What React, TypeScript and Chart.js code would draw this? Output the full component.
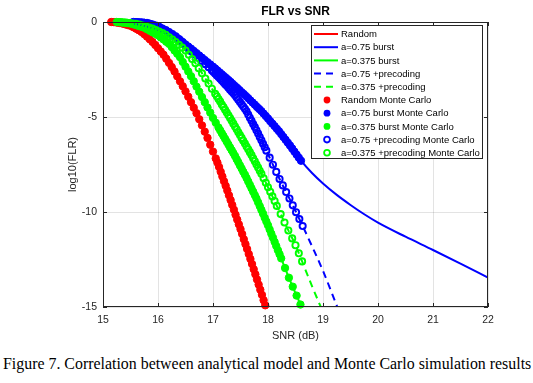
import React, { useEffect, useRef } from 'react';
import { Chart, registerables } from 'chart.js';

Chart.register(...registerables);

// ---------- data (SNR in dB, log10(FLR)) ----------
const xTicks = [15, 16, 17, 18, 19, 20, 21, 22];
const yTicks = [0, -5, -10, -15];

const legendLabels = [
  'Random',
  'a=0.75 burst',
  'a=0.375 burst',
  'a=0.75 +precoding',
  'a=0.375 +precoding',
  'Random Monte Carlo',
  'a=0.75 burst Monte Carlo',
  'a=0.375 burst Monte Carlo',
  'a=0.75 +precoding Monte Carlo',
  'a=0.375 +precoding Monte Carlo',
];

// analytical curves
const randomSnr = [15.15, 15.3, 15.5, 15.7, 15.9, 16.1, 16.3, 16.5, 16.7, 16.9, 17.1, 17.3, 17.5, 17.7, 17.9, 17.96];
const randomFlr = [0, -0.05, -0.2, -0.52, -1.05, -1.72, -2.6, -3.65, -4.8, -6.1, -7.55, -9.2, -10.9, -12.65, -14.45, -15];

const burst075Snr = [15.55, 15.8, 16.0, 16.2, 16.4, 16.6, 16.8, 17.0, 17.3, 17.6, 17.9, 18.2, 18.4, 18.6, 18.8, 19.0, 19.25, 19.5, 19.75, 20.0, 20.5, 21.0, 21.5, 22.0];
const burst075Flr = [0, -0.05, -0.25, -0.55, -0.95, -1.4, -1.88, -2.35, -3.1, -3.9, -4.75, -5.75, -6.5, -7.3, -7.95, -8.5, -9.1, -9.63, -10.12, -10.56, -11.3, -12.0, -12.72, -13.45];

const burst0375Snr = [15.25, 15.5, 15.75, 16.0, 16.2, 16.4, 16.6, 16.8, 17.0, 17.2, 17.4, 17.6, 17.8, 18.0, 18.2, 18.4, 18.61];
const burst0375Flr = [0, -0.08, -0.3, -0.7, -1.15, -1.85, -2.85, -3.95, -5.05, -6.05, -7.05, -8.15, -9.35, -10.7, -12.15, -13.6, -15];

const prec075Snr = [15.6, 16.0, 16.3, 16.6, 16.8, 17.0, 17.2, 17.4, 17.6, 17.8, 18.0, 18.2, 18.4, 18.6, 18.8, 19.0, 19.26];
const prec075Flr = [0, -0.22, -0.7, -1.5, -2.05, -2.6, -3.2, -3.85, -4.65, -5.75, -6.95, -8.2, -9.35, -10.55, -11.8, -13.1, -15];

const prec0375Snr = [15.3, 15.6, 15.9, 16.1, 16.3, 16.5, 16.7, 16.9, 17.1, 17.3, 17.5, 17.7, 17.9, 18.1, 18.3, 18.5, 18.62, 18.8, 18.96];
const prec0375Flr = [0, -0.1, -0.35, -0.6, -1.0, -1.5, -2.25, -3.15, -4.05, -5.0, -6.0, -7.0, -8.1, -9.3, -10.55, -11.75, -12.6, -13.9, -15];

// Monte Carlo results
const mcRandomSnr = [
  15.15, 15.2, 15.25, 15.3, 15.35, 15.4, 15.45, 15.5, 15.55, 15.6, 15.65, 15.7, 15.75, 15.8, 15.85, 15.9, 15.95, 16.0,
  16.05, 16.1, 16.15, 16.2, 16.25, 16.3, 16.35, 16.4, 16.45, 16.5, 16.55, 16.6, 16.65, 16.7, 16.75, 16.8, 16.85, 16.9,
  16.95, 17.0, 17.05, 17.08, 17.11, 17.14, 17.17, 17.2, 17.23, 17.26, 17.29, 17.32, 17.35, 17.38, 17.41, 17.44, 17.47,
  17.5, 17.53, 17.56, 17.59, 17.62, 17.65, 17.68, 17.71, 17.74, 17.77, 17.8, 17.83, 17.86, 17.89, 17.92, 17.95,
];
const mcRandomFlr = [
  0, -0.01, -0.03, -0.05, -0.08, -0.12, -0.16, -0.2, -0.27, -0.35, -0.43, -0.52, -0.64, -0.77, -0.91, -1.05, -1.21, -1.38,
  -1.55, -1.72, -1.93, -2.15, -2.37, -2.6, -2.86, -3.12, -3.38, -3.65, -3.93, -4.22, -4.51, -4.8, -5.12, -5.44, -5.77, -6.1,
  -6.46, -6.82, -7.18, -7.4, -7.63, -7.88, -8.13, -8.38, -8.62, -8.87, -9.12, -9.37, -9.63, -9.88, -10.14, -10.4, -10.65,
  -10.9, -11.16, -11.43, -11.69, -11.95, -12.21, -12.47, -12.74, -13.01, -13.28, -13.55, -13.82, -14.09, -14.36, -14.64, -14.91,
];

const mcBurst075Snr = [
  15.55, 15.6, 15.65, 15.7, 15.75, 15.8, 15.85, 15.9, 15.95, 16.0, 16.05, 16.1, 16.15, 16.2, 16.25, 16.3, 16.35, 16.4,
  16.45, 16.5, 16.55, 16.6, 16.65, 16.7, 16.75, 16.8, 16.85, 16.9, 16.95, 17.0, 17.04, 17.08, 17.12, 17.16, 17.2, 17.24,
  17.28, 17.32, 17.36, 17.4, 17.44, 17.48, 17.52, 17.56, 17.6, 17.64, 17.68, 17.72, 17.76, 17.8, 17.84, 17.88, 17.92,
  17.96, 18.0, 18.04, 18.08, 18.12, 18.16, 18.2, 18.24, 18.28, 18.32, 18.36, 18.4, 18.44, 18.48, 18.52, 18.56, 18.6,
];
const mcBurst075Flr = [
  0, -0.01, -0.02, -0.03, -0.04, -0.05, -0.09, -0.14, -0.2, -0.25, -0.32, -0.4, -0.47, -0.55, -0.65, -0.75, -0.85, -0.95,
  -1.06, -1.18, -1.29, -1.4, -1.52, -1.64, -1.76, -1.88, -2.0, -2.12, -2.23, -2.35, -2.45, -2.55, -2.65, -2.75, -2.85, -2.95,
  -3.05, -3.15, -3.26, -3.37, -3.47, -3.58, -3.69, -3.79, -3.9, -4.01, -4.13, -4.24, -4.35, -4.47, -4.58, -4.69, -4.82,
  -4.95, -5.08, -5.22, -5.35, -5.48, -5.62, -5.75, -5.9, -6.05, -6.2, -6.35, -6.5, -6.66, -6.82, -6.98, -7.14, -7.3,
];

const mcBurst0375Snr = [
  15.25, 15.3, 15.35, 15.4, 15.45, 15.5, 15.55, 15.6, 15.65, 15.7, 15.75, 15.8, 15.85, 15.9, 15.95, 16.0, 16.05, 16.1,
  16.15, 16.2, 16.25, 16.3, 16.35, 16.4, 16.45, 16.5, 16.55, 16.6, 16.65, 16.7, 16.75, 16.8, 16.85, 16.9, 16.95, 17.0,
  17.05, 17.1, 17.13, 17.16, 17.19, 17.22, 17.25, 17.28, 17.31, 17.34, 17.37, 17.4, 17.43, 17.46, 17.49, 17.52, 17.55,
  17.58, 17.61, 17.64, 17.67, 17.7, 17.73, 17.76, 17.79, 17.82, 17.85, 17.88, 17.91, 17.94, 17.97, 18.0, 18.03, 18.06,
  18.09, 18.12, 18.15, 18.18, 18.21, 18.24, 18.31, 18.38, 18.45, 18.52, 18.59,
];
const mcBurst0375Flr = [
  0, -0.01, -0.03, -0.04, -0.06, -0.08, -0.12, -0.16, -0.21, -0.25, -0.3, -0.38, -0.46, -0.54, -0.62, -0.7, -0.81, -0.92,
  -1.04, -1.15, -1.32, -1.5, -1.67, -1.85, -2.1, -2.35, -2.6, -2.85, -3.12, -3.4, -3.67, -3.95, -4.22, -4.5, -4.77, -5.05,
  -5.3, -5.55, -5.7, -5.85, -6.0, -6.15, -6.3, -6.45, -6.6, -6.75, -6.9, -7.05, -7.22, -7.38, -7.55, -7.71, -7.88,
  -8.04, -8.21, -8.39, -8.57, -8.75, -8.93, -9.11, -9.29, -9.49, -9.69, -9.89, -10.09, -10.3, -10.5, -10.7, -10.92, -11.14,
  -11.35, -11.57, -11.79, -12.01, -12.22, -12.44, -12.95, -13.46, -13.93, -14.4, -14.87,
];

const mcPrec075Snr = [
  15.6, 15.66, 15.72, 15.78, 15.84, 15.9, 15.96, 16.02, 16.08, 16.14, 16.2, 16.26, 16.32, 16.38, 16.44, 16.5, 16.56,
  16.62, 16.68, 16.74, 16.8, 16.86, 16.92, 16.98, 17.01, 17.04, 17.07, 17.1, 17.13, 17.16, 17.19, 17.22, 17.25, 17.28,
  17.31, 17.34, 17.37, 17.4, 17.43, 17.46, 17.49, 17.52, 17.55, 17.58, 17.61, 17.64, 17.67, 17.7, 17.73, 17.76, 17.79,
  17.82, 17.85, 17.88, 17.91, 17.94, 17.97, 18.03, 18.09, 18.15, 18.21, 18.27, 18.33, 18.39, 18.45, 18.51, 18.57, 18.63,
];
const mcPrec075Flr = [
  0, -0.01, -0.03, -0.06, -0.1, -0.14, -0.19, -0.25, -0.34, -0.43, -0.53, -0.63, -0.75, -0.9, -1.06, -1.23, -1.39,
  -1.56, -1.72, -1.89, -2.05, -2.22, -2.38, -2.55, -2.63, -2.72, -2.81, -2.9, -2.99, -3.08, -3.17, -3.27, -3.36, -3.46,
  -3.56, -3.66, -3.75, -3.85, -3.97, -4.09, -4.21, -4.33, -4.45, -4.57, -4.7, -4.87, -5.04, -5.2, -5.37, -5.53, -5.7,
  -5.87, -6.05, -6.23, -6.41, -6.59, -6.77, -7.14, -7.51, -7.89, -8.26, -8.6, -8.95, -9.29, -9.65, -10.01, -10.37, -10.74,
];

const mcPrec0375Snr = [
  15.3, 15.36, 15.42, 15.48, 15.54, 15.6, 15.66, 15.72, 15.78, 15.84, 15.9, 15.96, 16.02, 16.08, 16.14, 16.2, 16.26,
  16.32, 16.38, 16.44, 16.5, 16.56, 16.62, 16.68, 16.74, 16.8, 16.86, 16.92, 16.98, 17.04, 17.07, 17.1, 17.13, 17.16,
  17.19, 17.22, 17.25, 17.28, 17.31, 17.34, 17.37, 17.4, 17.43, 17.46, 17.49, 17.52, 17.55, 17.58, 17.61, 17.64, 17.67,
  17.7, 17.73, 17.76, 17.79, 17.82, 17.85, 17.88, 17.92, 17.96, 18.0, 18.04, 18.08, 18.12, 18.16, 18.23, 18.3, 18.37,
  18.44, 18.5, 18.56, 18.62,
];
const mcPrec0375Flr = [
  0, -0.01, -0.03, -0.05, -0.08, -0.1, -0.14, -0.19, -0.24, -0.29, -0.35, -0.42, -0.5, -0.58, -0.67, -0.8, -0.92,
  -1.05, -1.2, -1.35, -1.5, -1.72, -1.95, -2.17, -2.43, -2.7, -2.97, -3.24, -3.51, -3.78, -3.91, -4.05, -4.19, -4.34,
  -4.48, -4.62, -4.76, -4.91, -5.05, -5.2, -5.35, -5.5, -5.65, -5.8, -5.95, -6.1, -6.25, -6.4, -6.55, -6.7, -6.85,
  -7.0, -7.17, -7.33, -7.5, -7.66, -7.83, -7.99, -8.22, -8.46, -8.7, -8.94, -9.18, -9.42, -9.68, -10.11, -10.55, -10.97,
  -11.39, -11.75, -12.17, -12.6,
];

// ---------- styling ----------
const RED = '#ff0000';
const BLUE = '#0000ff';
const GREEN = '#00ff00';
const AXIS = '#262626';
const SANS = '"Liberation Sans", Arial, Helvetica, sans-serif';
const FILLED_R = 3.7;
const OPEN_R = 3.1;
const OPEN_W = 1.9;

const pts = (xs: number[], ys: number[]) => xs.map((x, i) => ({ x, y: ys[i] }));

const lineDs = (i: number, xs: number[], ys: number[], color: string, dash: number[] = []) => ({
  label: legendLabels[i],
  data: pts(xs, ys),
  showLine: true,
  borderColor: color,
  backgroundColor: color,
  borderWidth: 2,
  borderDash: dash,
  pointRadius: 0,
  cubicInterpolationMode: 'monotone',
  order: 10 - i,
  isLine: true,
});

const mcDs = (i: number, xs: number[], ys: number[], color: string, filled: boolean) => ({
  label: legendLabels[i],
  data: pts(xs, ys),
  showLine: false,
  borderColor: color,
  backgroundColor: filled ? color : 'rgba(0,0,0,0)',
  pointRadius: filled ? FILLED_R : OPEN_R,
  pointBorderWidth: filled ? 1 : OPEN_W,
  pointBackgroundColor: filled ? color : 'rgba(0,0,0,0)',
  pointBorderColor: color,
  pointStyle: 'circle',
  clip: false,
  order: 10 - i,
  isLine: false,
  filled,
});

const chromePlugin = {
  id: 'chrome',
  afterDatasetsDraw(chart: any) {
    const { ctx, chartArea: a, scales } = chart;
    ctx.save();
    ctx.strokeStyle = AXIS;
    ctx.lineWidth = 1;
    ctx.strokeRect(a.left + 0.5, a.top + 0.5, a.right - a.left - 1, a.bottom - a.top - 1);
    ctx.beginPath();
    xTicks.forEach((v) => {
      const px = Math.round(scales.x.getPixelForValue(v)) + 0.5;
      ctx.moveTo(px, a.bottom);
      ctx.lineTo(px, a.bottom - 4);
      ctx.moveTo(px, a.top);
      ctx.lineTo(px, a.top + 4);
    });
    yTicks.forEach((v) => {
      const py = Math.round(scales.y.getPixelForValue(v)) + 0.5;
      ctx.moveTo(a.left, py);
      ctx.lineTo(a.left + 4, py);
      ctx.moveTo(a.right, py);
      ctx.lineTo(a.right - 4, py);
    });
    ctx.stroke();
    ctx.restore();
  },
  afterDraw(chart: any) {
    const { ctx, chartArea: a } = chart;
    ctx.save();
    // title
    ctx.fillStyle = '#000';
    ctx.font = `bold 12px ${SANS}`;
    ctx.textAlign = 'center';
    ctx.textBaseline = 'middle';
    ctx.fillText('FLR vs SNR', (a.left + a.right) / 2, 12);
    // axis titles
    ctx.fillStyle = AXIS;
    ctx.font = `11px ${SANS}`;
    ctx.fillText('SNR (dB)', (a.left + a.right) / 2, 336);
    ctx.save();
    ctx.translate(73, (a.top + a.bottom) / 2);
    ctx.rotate(-Math.PI / 2);
    ctx.fillText('log10(FLR)', 0, 0);
    ctx.restore();

    // legend
    const lx = 311, ly = 25, lw = 172, lh = 134;
    ctx.fillStyle = '#fff';
    ctx.fillRect(lx, ly, lw, lh);
    ctx.strokeStyle = AXIS;
    ctx.lineWidth = 1;
    ctx.strokeRect(lx + 0.5, ly + 0.5, lw - 1, lh - 1);
    chart.data.datasets.forEach((ds: any, i: number) => {
      const y = 34 + i * 13.2;
      if (ds.isLine) {
        ctx.beginPath();
        ctx.strokeStyle = ds.borderColor;
        ctx.lineWidth = 2;
        ctx.setLineDash(ds.borderDash || []);
        ctx.moveTo(314, y);
        ctx.lineTo(338, y);
        ctx.stroke();
        ctx.setLineDash([]);
      } else {
        ctx.beginPath();
        ctx.arc(327, y, ds.filled ? 3.4 : 2.9, 0, Math.PI * 2);
        if (ds.filled) {
          ctx.fillStyle = ds.borderColor;
          ctx.fill();
        } else {
          ctx.strokeStyle = ds.borderColor;
          ctx.lineWidth = 1.8;
          ctx.stroke();
        }
      }
      ctx.fillStyle = '#000';
      ctx.font = `9.5px ${SANS}`;
      ctx.textAlign = 'left';
      ctx.textBaseline = 'middle';
      ctx.fillText(ds.label, 341, y + 0.5);
    });
    ctx.restore();
  },
};

export default function App() {
  const canvasRef = useRef<HTMLCanvasElement | null>(null);

  useEffect(() => {
    if (!canvasRef.current) return;
    const datasets: any[] = [
      lineDs(0, randomSnr, randomFlr, RED),
      lineDs(1, burst075Snr, burst075Flr, BLUE),
      lineDs(2, burst0375Snr, burst0375Flr, GREEN),
      lineDs(3, prec075Snr, prec075Flr, BLUE, [7, 5]),
      lineDs(4, prec0375Snr, prec0375Flr, GREEN, [7, 5]),
      mcDs(5, mcRandomSnr, mcRandomFlr, RED, true),
      mcDs(6, mcBurst075Snr, mcBurst075Flr, BLUE, true),
      mcDs(7, mcBurst0375Snr, mcBurst0375Flr, GREEN, true),
      mcDs(8, mcPrec075Snr, mcPrec075Flr, BLUE, false),
      mcDs(9, mcPrec0375Snr, mcPrec0375Flr, GREEN, false),
    ];
    const chart = new Chart(canvasRef.current, {
      type: 'scatter',
      data: { datasets },
      plugins: [chromePlugin as any],
      options: {
        responsive: false,
        animation: false,
        devicePixelRatio: 1,
        events: [],
        layout: { padding: { left: 0, right: 45, top: 22, bottom: 0 } },
        plugins: { legend: { display: false }, title: { display: false }, tooltip: { enabled: false } },
        scales: {
          x: {
            type: 'linear',
            min: 15,
            max: 22,
            afterFit: (s: any) => { s.height = 38; },
            afterBuildTicks: (s: any) => { s.ticks = xTicks.map((v) => ({ value: v })); },
            grid: { color: 'rgba(38,38,38,0.13)', lineWidth: 1, drawTicks: false },
            border: { display: false },
            ticks: { color: AXIS, font: { family: SANS, size: 10.5 }, padding: 7, maxRotation: 0 },
          },
          y: {
            type: 'linear',
            min: -15,
            max: 0,
            afterFit: (s: any) => { s.width = 103; },
            afterBuildTicks: (s: any) => { s.ticks = yTicks.map((v) => ({ value: v })); },
            grid: { color: 'rgba(38,38,38,0.13)', lineWidth: 1, drawTicks: false },
            border: { display: false },
            ticks: { color: AXIS, font: { family: SANS, size: 10.5 }, padding: 6 },
          },
        },
      } as any,
    });
    return () => chart.destroy();
  }, []);

  return (
    <div style={{ position: 'fixed', left: 0, top: 0, width: 533, height: 383, background: '#fff', overflow: 'hidden' }}>
      <canvas ref={canvasRef} width={533} height={345} style={{ position: 'absolute', left: 0, top: 0, width: 533, height: 345 }} />
      <div
        style={{
          position: 'absolute',
          left: 3,
          top: 356,
          fontFamily: '"Liberation Serif", "Times New Roman", serif',
          fontSize: '15.9px',
          lineHeight: '16px',
          whiteSpace: 'nowrap',
          color: '#000',
        }}
      >
        Figure 7. Correlation between analytical model and Monte Carlo simulation results
      </div>
    </div>
  );
}
